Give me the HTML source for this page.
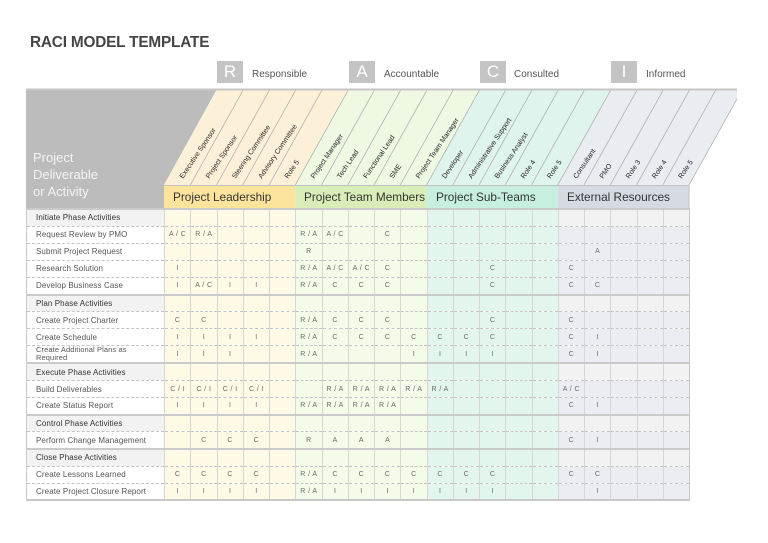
<!DOCTYPE html>
<html><head><meta charset="utf-8"><style>
*{margin:0;padding:0;box-sizing:border-box}
body{width:768px;height:543px;background:#fff;position:relative;overflow:hidden;font-family:"Liberation Sans",sans-serif}
.title{position:absolute;left:30px;top:34px;font-size:16px;font-weight:bold;color:#454545;letter-spacing:-0.2px;transform:scaleX(0.96);transform-origin:left top}
.lb{position:absolute;top:61px;width:26px;height:22px;background:#c4c4c4;color:#fff;font-size:17px;text-align:center;line-height:22px}
.lt{position:absolute;top:69px;font-size:10px;color:#555;line-height:12px}
svg{position:absolute;left:0;top:0}
table{position:absolute;left:26px;top:208px;width:663px;border-collapse:collapse;table-layout:fixed}
td{height:17.12px;padding:0;border-left:1px solid #d6d6d6;border-bottom:1px dashed #c4c4c4;text-align:center;font-size:7px;color:#6b6b6b;letter-spacing:0.4px;white-space:nowrap;overflow:hidden;line-height:9px}
td:nth-child(n+2):nth-child(-n+6){background:#fefae6}
td:nth-child(n+7):nth-child(-n+11){background:#f4fbe8}
td:nth-child(n+12):nth-child(-n+16){background:#e3f6ee}
td:nth-child(n+17){background:#ebedf2}
td:last-child{border-right:1px solid #c8c8c8}
td.n{text-align:left;padding-left:9px;font-size:8px;color:#555;letter-spacing:0.1px;background:#fff;border-left:1.5px solid #c8c8c8}
td.n2{font-size:7.5px;line-height:8px}
tr.p td{background:#f2f2f2;border-top:2px solid #cacaca}
tr.p td.n{color:#333;background:#f2f2f2}
tr:last-child td{border-bottom:2px solid #c8c8c8}
</style></head><body>
<div class="title">RACI MODEL TEMPLATE</div>
<div class="lb" style="left:217px">R</div><div class="lt" style="left:252px">Responsible</div>
<div class="lb" style="left:349px">A</div><div class="lt" style="left:384px">Accountable</div>
<div class="lb" style="left:480px">C</div><div class="lt" style="left:514px">Consulted</div>
<div class="lb" style="left:611px">I</div><div class="lt" style="left:646px">Informed</div>

<svg width="768" height="543" viewBox="0 0 768 543">
<defs><clipPath id="cp"><rect x="0" y="0" width="737" height="543"/></clipPath></defs>
<polygon points="26,89 217,89 164,185 164,208 26,208" fill="#bcbcbc"/>
<g clip-path="url(#cp)">
<polygon points="217,90 348.25,90 295.25,185 164,185" fill="#fdf0d8"/>
<polygon points="348.25,90 479.5,90 426.5,185 295.25,185" fill="#eef8e2"/>
<polygon points="479.5,90 610.75,90 557.75,185 426.5,185" fill="#dff4ec"/>
<polygon points="610.75,90 742,90 689,185 557.75,185" fill="#e9ecf1"/>
<g stroke="#a8a8a8" stroke-width="0.7">
<line x1="190.25" y1="185" x2="243.25" y2="90"/>
<line x1="216.5" y1="185" x2="269.5" y2="90"/>
<line x1="242.75" y1="185" x2="295.75" y2="90"/>
<line x1="269" y1="185" x2="322" y2="90"/>
<line x1="295.25" y1="185" x2="348.25" y2="90"/>
<line x1="321.5" y1="185" x2="374.5" y2="90"/>
<line x1="347.75" y1="185" x2="400.75" y2="90"/>
<line x1="374" y1="185" x2="427" y2="90"/>
<line x1="400.25" y1="185" x2="453.25" y2="90"/>
<line x1="426.5" y1="185" x2="479.5" y2="90"/>
<line x1="452.75" y1="185" x2="505.75" y2="90"/>
<line x1="479" y1="185" x2="532" y2="90"/>
<line x1="505.25" y1="185" x2="558.25" y2="90"/>
<line x1="531.5" y1="185" x2="584.5" y2="90"/>
<line x1="557.75" y1="185" x2="610.75" y2="90"/>
<line x1="584" y1="185" x2="637" y2="90"/>
<line x1="610.25" y1="185" x2="663.25" y2="90"/>
<line x1="636.5" y1="185" x2="689.5" y2="90"/>
<line x1="662.75" y1="185" x2="715.75" y2="90"/>
<line x1="689" y1="185" x2="742" y2="90"/>
</g>
</g>
<line x1="26" y1="89.5" x2="737" y2="89.5" stroke="#c6c6c6" stroke-width="2"/>
<g font-family="Liberation Sans, sans-serif" font-size="7.1" fill="#222">
<text transform="translate(183,179) rotate(-56)">Executive Sponsor</text>
<text transform="translate(209.25,179) rotate(-56)">Project Sponsor</text>
<text transform="translate(235.5,179) rotate(-56)">Steering Committee</text>
<text transform="translate(261.75,179) rotate(-56)">Advisory Committee</text>
<text transform="translate(288,179) rotate(-56)">Role 5</text>
<text transform="translate(314.25,179) rotate(-56)">Project Manager</text>
<text transform="translate(340.5,179) rotate(-56)">Tech Lead</text>
<text transform="translate(366.75,179) rotate(-56)">Functional Lead</text>
<text transform="translate(393,179) rotate(-56)">SME</text>
<text transform="translate(419.25,179) rotate(-56)">Project Team Manager</text>
<text transform="translate(445.5,179) rotate(-56)">Developer</text>
<text transform="translate(471.75,179) rotate(-56)">Administrative Support</text>
<text transform="translate(498,179) rotate(-56)">Business Analyst</text>
<text transform="translate(524.25,179) rotate(-56)">Role 4</text>
<text transform="translate(550.5,179) rotate(-56)">Role 5</text>
<text transform="translate(576.75,179) rotate(-56)">Consultant</text>
<text transform="translate(603,179) rotate(-56)">PMO</text>
<text transform="translate(629.25,179) rotate(-56)">Role 3</text>
<text transform="translate(655.5,179) rotate(-56)">Role 4</text>
<text transform="translate(681.75,179) rotate(-56)">Role 5</text>
</g>
<g font-family="Liberation Sans, sans-serif" font-size="13" fill="#f4f4f4">
<text x="33" y="162">Project</text>
<text x="33" y="179">Deliverable</text>
<text x="33" y="196">or Activity</text>
</g>
<rect x="164" y="185" width="131.25" height="23" fill="#fde49c"/>
<rect x="295.25" y="185" width="131.25" height="23" fill="#d9edb8"/>
<g font-family="Liberation Sans, sans-serif" font-size="11.8" fill="#333">
<text x="173" y="201">Project Leadership</text>
<text x="304" y="201">Project Team Members</text>
</g>
<rect x="426.5" y="185" width="131.25" height="23" fill="#c6efe0"/>
<rect x="557.75" y="185" width="131.25" height="23" fill="#d6dbe2"/>
<g font-family="Liberation Sans, sans-serif" font-size="11.8" fill="#333">
<text x="436" y="201">Project Sub-Teams</text>
<text x="567" y="201">External Resources</text>
</g>
<line x1="164" y1="185.5" x2="689" y2="185.5" stroke="#c0c0c0" stroke-width="1"/>
<line x1="689" y1="185" x2="689" y2="208" stroke="#c0c0c0" stroke-width="1"/>
</svg>

<table>
<colgroup><col style="width:138px"><col span="20" style="width:26.25px"></colgroup>
<tr class="p"><td class="n">Initiate Phase Activities</td><td></td><td></td><td></td><td></td><td></td><td></td><td></td><td></td><td></td><td></td><td></td><td></td><td></td><td></td><td></td><td></td><td></td><td></td><td></td><td></td></tr>
<tr><td class="n">Request Review by PMO</td><td>A / C</td><td>R / A</td><td></td><td></td><td></td><td>R / A</td><td>A / C</td><td></td><td>C</td><td></td><td></td><td></td><td></td><td></td><td></td><td></td><td></td><td></td><td></td><td></td></tr>
<tr><td class="n">Submit Project Request</td><td></td><td></td><td></td><td></td><td></td><td>R</td><td></td><td></td><td></td><td></td><td></td><td></td><td></td><td></td><td></td><td></td><td>A</td><td></td><td></td><td></td></tr>
<tr><td class="n">Research Solution</td><td>I</td><td></td><td></td><td></td><td></td><td>R / A</td><td>A / C</td><td>A / C</td><td>C</td><td></td><td></td><td></td><td>C</td><td></td><td></td><td>C</td><td></td><td></td><td></td><td></td></tr>
<tr><td class="n">Develop Business Case</td><td>I</td><td>A / C</td><td>I</td><td>I</td><td></td><td>R / A</td><td>C</td><td>C</td><td>C</td><td></td><td></td><td></td><td>C</td><td></td><td></td><td>C</td><td>C</td><td></td><td></td><td></td></tr>
<tr class="p"><td class="n">Plan Phase Activities</td><td></td><td></td><td></td><td></td><td></td><td></td><td></td><td></td><td></td><td></td><td></td><td></td><td></td><td></td><td></td><td></td><td></td><td></td><td></td><td></td></tr>
<tr><td class="n">Create Project Charter</td><td>C</td><td>C</td><td></td><td></td><td></td><td>R / A</td><td>C</td><td>C</td><td>C</td><td></td><td></td><td></td><td>C</td><td></td><td></td><td>C</td><td></td><td></td><td></td><td></td></tr>
<tr><td class="n">Create Schedule</td><td>I</td><td>I</td><td>I</td><td>I</td><td></td><td>R / A</td><td>C</td><td>C</td><td>C</td><td>C</td><td>C</td><td>C</td><td>C</td><td></td><td></td><td>C</td><td>I</td><td></td><td></td><td></td></tr>
<tr><td class="n n2">Create Additional Plans as<br>Required</td><td>I</td><td>I</td><td>I</td><td></td><td></td><td>R / A</td><td></td><td></td><td></td><td>I</td><td>I</td><td>I</td><td>I</td><td></td><td></td><td>C</td><td>I</td><td></td><td></td><td></td></tr>
<tr class="p"><td class="n">Execute Phase Activities</td><td></td><td></td><td></td><td></td><td></td><td></td><td></td><td></td><td></td><td></td><td></td><td></td><td></td><td></td><td></td><td></td><td></td><td></td><td></td><td></td></tr>
<tr><td class="n">Build Deliverables</td><td>C / I</td><td>C / I</td><td>C / I</td><td>C / I</td><td></td><td></td><td>R / A</td><td>R / A</td><td>R / A</td><td>R / A</td><td>R / A</td><td></td><td></td><td></td><td></td><td>A / C</td><td></td><td></td><td></td><td></td></tr>
<tr><td class="n">Create Status Report</td><td>I</td><td>I</td><td>I</td><td>I</td><td></td><td>R / A</td><td>R / A</td><td>R / A</td><td>R / A</td><td></td><td></td><td></td><td></td><td></td><td></td><td>C</td><td>I</td><td></td><td></td><td></td></tr>
<tr class="p"><td class="n">Control Phase Activities</td><td></td><td></td><td></td><td></td><td></td><td></td><td></td><td></td><td></td><td></td><td></td><td></td><td></td><td></td><td></td><td></td><td></td><td></td><td></td><td></td></tr>
<tr><td class="n">Perform Change Management</td><td></td><td>C</td><td>C</td><td>C</td><td></td><td>R</td><td>A</td><td>A</td><td>A</td><td></td><td></td><td></td><td></td><td></td><td></td><td>C</td><td>I</td><td></td><td></td><td></td></tr>
<tr class="p"><td class="n">Close Phase Activities</td><td></td><td></td><td></td><td></td><td></td><td></td><td></td><td></td><td></td><td></td><td></td><td></td><td></td><td></td><td></td><td></td><td></td><td></td><td></td><td></td></tr>
<tr><td class="n">Create Lessons Learned</td><td>C</td><td>C</td><td>C</td><td>C</td><td></td><td>R / A</td><td>C</td><td>C</td><td>C</td><td>C</td><td>C</td><td>C</td><td>C</td><td></td><td></td><td>C</td><td>C</td><td></td><td></td><td></td></tr>
<tr><td class="n">Create Project Closure Report</td><td>I</td><td>I</td><td>I</td><td>I</td><td></td><td>R / A</td><td>I</td><td>I</td><td>I</td><td>I</td><td>I</td><td>I</td><td>I</td><td></td><td></td><td></td><td>I</td><td></td><td></td><td></td></tr>
</table>
</body></html>
